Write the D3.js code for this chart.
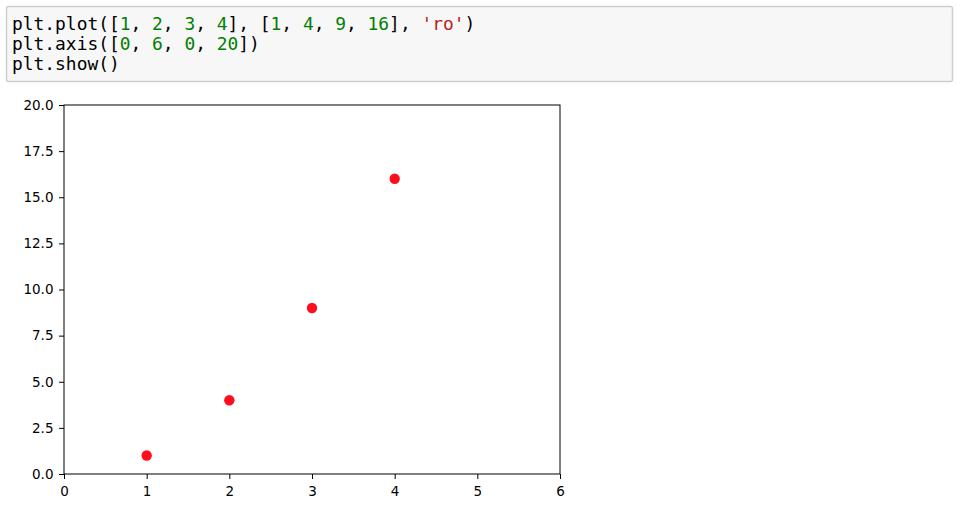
<!DOCTYPE html>
<html><head><meta charset="utf-8">
<script src="https://cdn.jsdelivr.net/npm/d3@7"></script>
<style>
body{margin:0;background:#fff;}
svg{display:block;}
</style></head>
<body>
<svg id="c" width="964" height="512"></svg>
<script>
const xValues = [1, 2, 3, 4];
const yValues = [1, 4, 9, 16];
const xDomain = [0, 6];
const yDomain = [0, 20];
const xTickValues = [0, 1, 2, 3, 4, 5, 6];
const yTickValues = [0, 2.5, 5, 7.5, 10, 12.5, 15, 17.5, 20];
const codeLines = [
  [["plt.plot([","k"],["1","n"],[", ","k"],["2","n"],[", ","k"],["3","n"],[", ","k"],["4","n"],["], [","k"],["1","n"],[", ","k"],["4","n"],[", ","k"],["9","n"],[", ","k"],["16","n"],["], ","k"],["'ro'","s"],[")","k"]],
  [["plt.axis([","k"],["0","n"],[", ","k"],["6","n"],[", ","k"],["0","n"],[", ","k"],["20","n"],["])","k"]],
  [["plt.show()","k"]]
];
const codeColors = {k:"#000", n:"#008000", s:"#ba2121"};

const svg = d3.select("#c");
// code cell
svg.append("rect").attr("x",6.5).attr("y",6.5).attr("width",946).attr("height",75)
  .attr("fill","#f7f7f7").attr("stroke","#cfcfcf").attr("stroke-width",1.5).attr("rx",2);
codeLines.forEach((ln,i)=>{
  const t = svg.append("text").attr("x",12).attr("y",30+i*20)
    .attr("font-family","'DejaVu Sans Mono', monospace").attr("font-size",17.9)
    .style("white-space","pre");
  ln.forEach(([s,c])=>t.append("tspan").attr("fill",codeColors[c]).text(s));
});

const m = {l:64, r:560, t:105, b:474};
const x = d3.scaleLinear().domain(xDomain).range([m.l, m.r]);
const y = d3.scaleLinear().domain(yDomain).range([m.b, m.t]);

const fmtY = d3.format(".1f");
const xa = svg.append("g").attr("transform",`translate(0,${m.b})`)
  .call(d3.axisBottom(x).tickValues(xTickValues).tickFormat(d3.format("d")).tickSize(5).tickPadding(7));
const ya = svg.append("g").attr("transform",`translate(${m.l},0)`)
  .call(d3.axisLeft(y).tickValues(yTickValues).tickFormat(fmtY).tickSize(5).tickPadding(5.5));
[xa,ya].forEach(a=>{
  a.selectAll("text").attr("font-family","'DejaVu Sans', sans-serif").attr("font-size",13.5).attr("fill","#000");
  a.selectAll("line").attr("stroke","#000").attr("stroke-width",1);
  a.select(".domain").remove();
});
svg.append("rect").attr("x",m.l).attr("y",m.t).attr("width",m.r-m.l).attr("height",m.b-m.t)
  .attr("fill","none").attr("stroke","#000").attr("stroke-width",1);

svg.append("g").selectAll("circle").data(xValues.map((v,i)=>[v,yValues[i]])).join("circle")
  .attr("cx",d=>x(d[0])).attr("cy",d=>y(d[1])).attr("r",5.2).attr("fill","#ff0d1f");
</script>
</body></html>
